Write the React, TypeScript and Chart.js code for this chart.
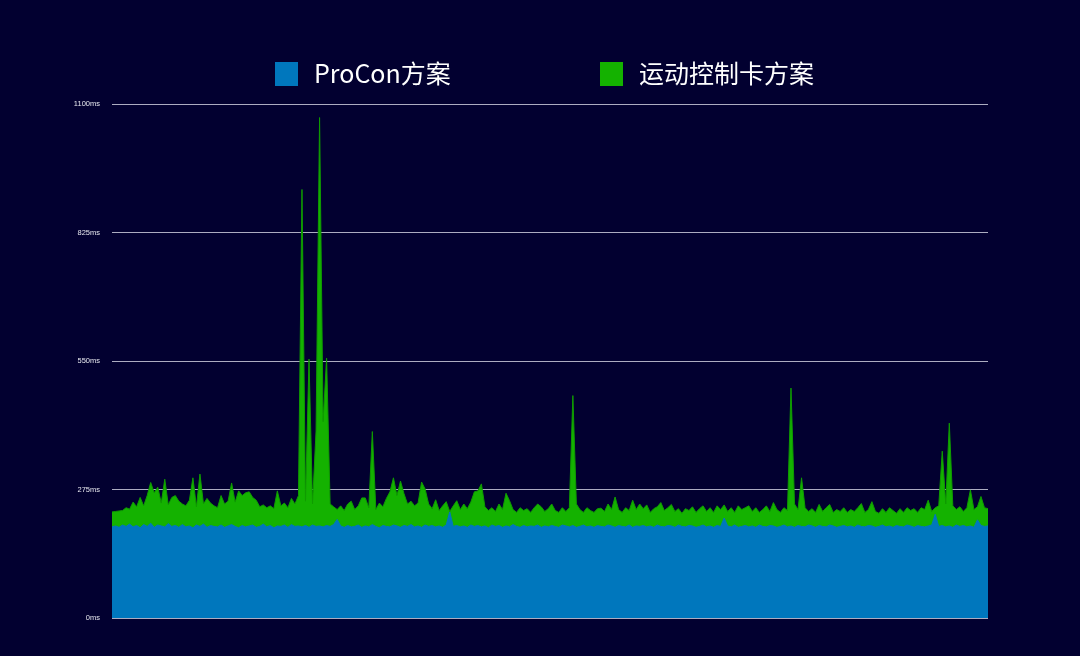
import React, { useEffect, useRef } from "react";
import { Chart, registerables } from "chart.js";

Chart.register(...registerables);

const seriesNames = ["ProCon方案", "运动控制卡方案"];
const yTicks = [0, 275, 550, 825, 1100];

const proconValues = [
  195, 197, 194, 199, 196, 201, 195, 198, 193, 200,
  196, 203, 194, 199, 197, 195, 202, 196, 198, 194,
  200, 195, 197, 193, 199, 196, 201, 194, 198, 196,
  195, 199, 194, 197, 200, 196, 193, 198, 195, 197,
  199, 194, 196, 201, 195, 198, 193, 197, 196, 199,
  194, 200, 196, 197, 195, 198, 194, 199, 196, 197,
  195, 198, 196, 200, 211, 197, 194, 198, 195, 196,
  199, 194, 197, 195, 200, 196, 193, 198, 196, 195,
  199, 197, 194, 198, 196, 200, 195, 197, 194, 199,
  196, 198, 195, 197, 194, 199, 227, 196, 198, 195,
  197, 194, 199, 196, 198, 195, 197, 193, 199, 196,
  198, 194, 197, 195, 200, 196, 194, 198, 195, 197,
  196, 199, 194, 197, 195, 198, 196, 194, 199, 197,
  195, 198, 194, 196, 199, 195, 197, 194, 198, 196,
  195, 199, 197, 194, 198, 196, 195, 199, 194, 197,
  196, 198, 195, 197, 194, 199, 196, 195, 198, 197,
  194, 199, 196, 195, 198, 197, 194, 196, 199, 195,
  197, 194, 198, 196, 214, 197, 195, 199, 194, 196,
  198, 195, 197, 194, 199, 196, 195, 198, 197, 194,
  196, 199, 195, 197, 194, 198, 196, 195, 199, 197,
  194, 198, 196, 195, 199, 197, 194, 196, 198, 195,
  197, 194, 199, 196, 195, 198, 197, 194, 196, 199,
  195, 197, 194, 198, 196, 195, 199, 197, 194, 198,
  196, 195, 197, 199, 222, 196, 198, 195, 197, 194,
  199, 196, 198, 195, 197, 194, 210, 198, 196, 197,
];

const motionCardValues = [
  227, 228, 229, 230, 236, 233, 248, 238, 258, 240,
  262, 290, 268, 280, 246, 297, 242, 258, 262, 250,
  244, 240, 252, 300, 238, 308, 244, 256, 246, 240,
  236, 262, 244, 250, 289, 248, 272, 262, 268, 270,
  258, 252, 238, 242, 236, 240, 234, 272, 240, 246,
  236, 256, 244, 262, 917, 250, 554, 244, 400, 1071,
  420, 556, 244, 238, 232, 240, 230, 244, 250, 232,
  240, 257, 257, 236, 399, 232, 246, 238, 256, 270,
  300, 262, 293, 266, 244, 250, 240, 246, 291, 276,
  244, 234, 253, 230, 240, 249, 228, 240, 251, 232,
  244, 234, 248, 270, 272, 287, 238, 230, 236, 228,
  244, 232, 267, 251, 232, 226, 236, 230, 234, 226,
  236, 244, 238, 228, 234, 244, 230, 226, 236, 228,
  236, 476, 244, 232, 226, 236, 230, 226, 234, 235,
  228, 244, 232, 259, 232, 226, 236, 230, 252, 232,
  244, 234, 242, 226, 234, 238, 247, 230, 236, 243,
  228, 234, 224, 234, 230, 238, 226, 234, 240, 228,
  236, 226, 240, 232, 242, 228, 236, 226, 240, 232,
  236, 240, 228, 236, 226, 232, 240, 228, 247, 232,
  226, 236, 230, 492, 244, 232, 300, 236, 228, 234,
  226, 243, 228, 236, 243, 226, 232, 228, 236, 226,
  232, 228, 236, 245, 226, 232, 249, 228, 224, 234,
  226, 236, 230, 224, 234, 226, 236, 230, 234, 226,
  236, 232, 252, 228, 236, 240, 357, 244, 417, 240,
  232, 238, 228, 236, 274, 232, 238, 260, 236, 234,
];

const categories = proconValues.map((_, i) => String(i + 1));

function AreaChart() {
  const canvasRef = useRef<HTMLCanvasElement | null>(null);

  useEffect(() => {
    if (!canvasRef.current) return;
    const chart = new Chart(canvasRef.current, {
      type: "line",
      data: {
        labels: categories,
        datasets: [
          {
            label: seriesNames[0],
            data: proconValues,
            borderColor: "#0077BD",
            backgroundColor: "#0077BD",
            borderWidth: 1,
            pointRadius: 0,
            tension: 0,
            fill: "origin",
          },
          {
            label: seriesNames[1],
            data: motionCardValues,
            borderColor: "#109C00",
            backgroundColor: "#14B200",
            borderWidth: 1,
            pointRadius: 0,
            tension: 0,
            fill: "origin",
          },
        ],
      },
      options: {
        animation: false,
        responsive: false,
        events: [],
        layout: { padding: { left: 0, right: 92, top: 104, bottom: 38 } },
        plugins: {
          legend: { display: false },
          tooltip: { enabled: false },
        },
        scales: {
          x: { display: false },
          y: {
            min: 0,
            max: 1100,
            afterFit: (scale: any) => {
              scale.width = 112;
            },
            afterBuildTicks: (scale: any) => {
              scale.ticks = yTicks.map((v) => ({ value: v }));
            },
            ticks: {
              color: "#E6E6EE",
              padding: 12,
              font: { family: "Liberation Sans", size: 7.5 },
              callback: (v: any) => `${v}ms`,
            },
            grid: {
              color: "rgba(215,215,230,0.8)",
              lineWidth: 1,
              drawTicks: false,
            },
            border: { display: false },
          },
        },
      },
    });
    return () => chart.destroy();
  }, []);

  return <canvas ref={canvasRef} width={1080} height={656} style={{ display: "block" }} />;
}

export default function App() {
  const legendColors = ["#0077BD", "#14B200"];
  const legendLeft = [275, 600];
  return (
    <div
      style={{
        position: "fixed",
        left: 0,
        top: 0,
        width: 1080,
        height: 656,
        background: "#020030",
        overflow: "hidden",
      }}
    >
      <AreaChart />
      {seriesNames.map((name, i) => (
        <div
          key={name}
          style={{
            position: "absolute",
            left: legendLeft[i],
            top: 62,
            height: 24,
            display: "flex",
            alignItems: "center",
            fontFamily: "'Noto Sans CJK SC', 'Noto Sans', sans-serif",
            fontSize: 25,
            color: "#FFFFFF",
            whiteSpace: "nowrap",
          }}
        >
          <span
            style={{
              display: "inline-block",
              width: 23,
              height: 24,
              background: legendColors[i],
              marginRight: 16,
            }}
          />
          <span style={{ lineHeight: "24px", position: "relative", top: -2 }}>{name}</span>
        </div>
      ))}
    </div>
  );
}
